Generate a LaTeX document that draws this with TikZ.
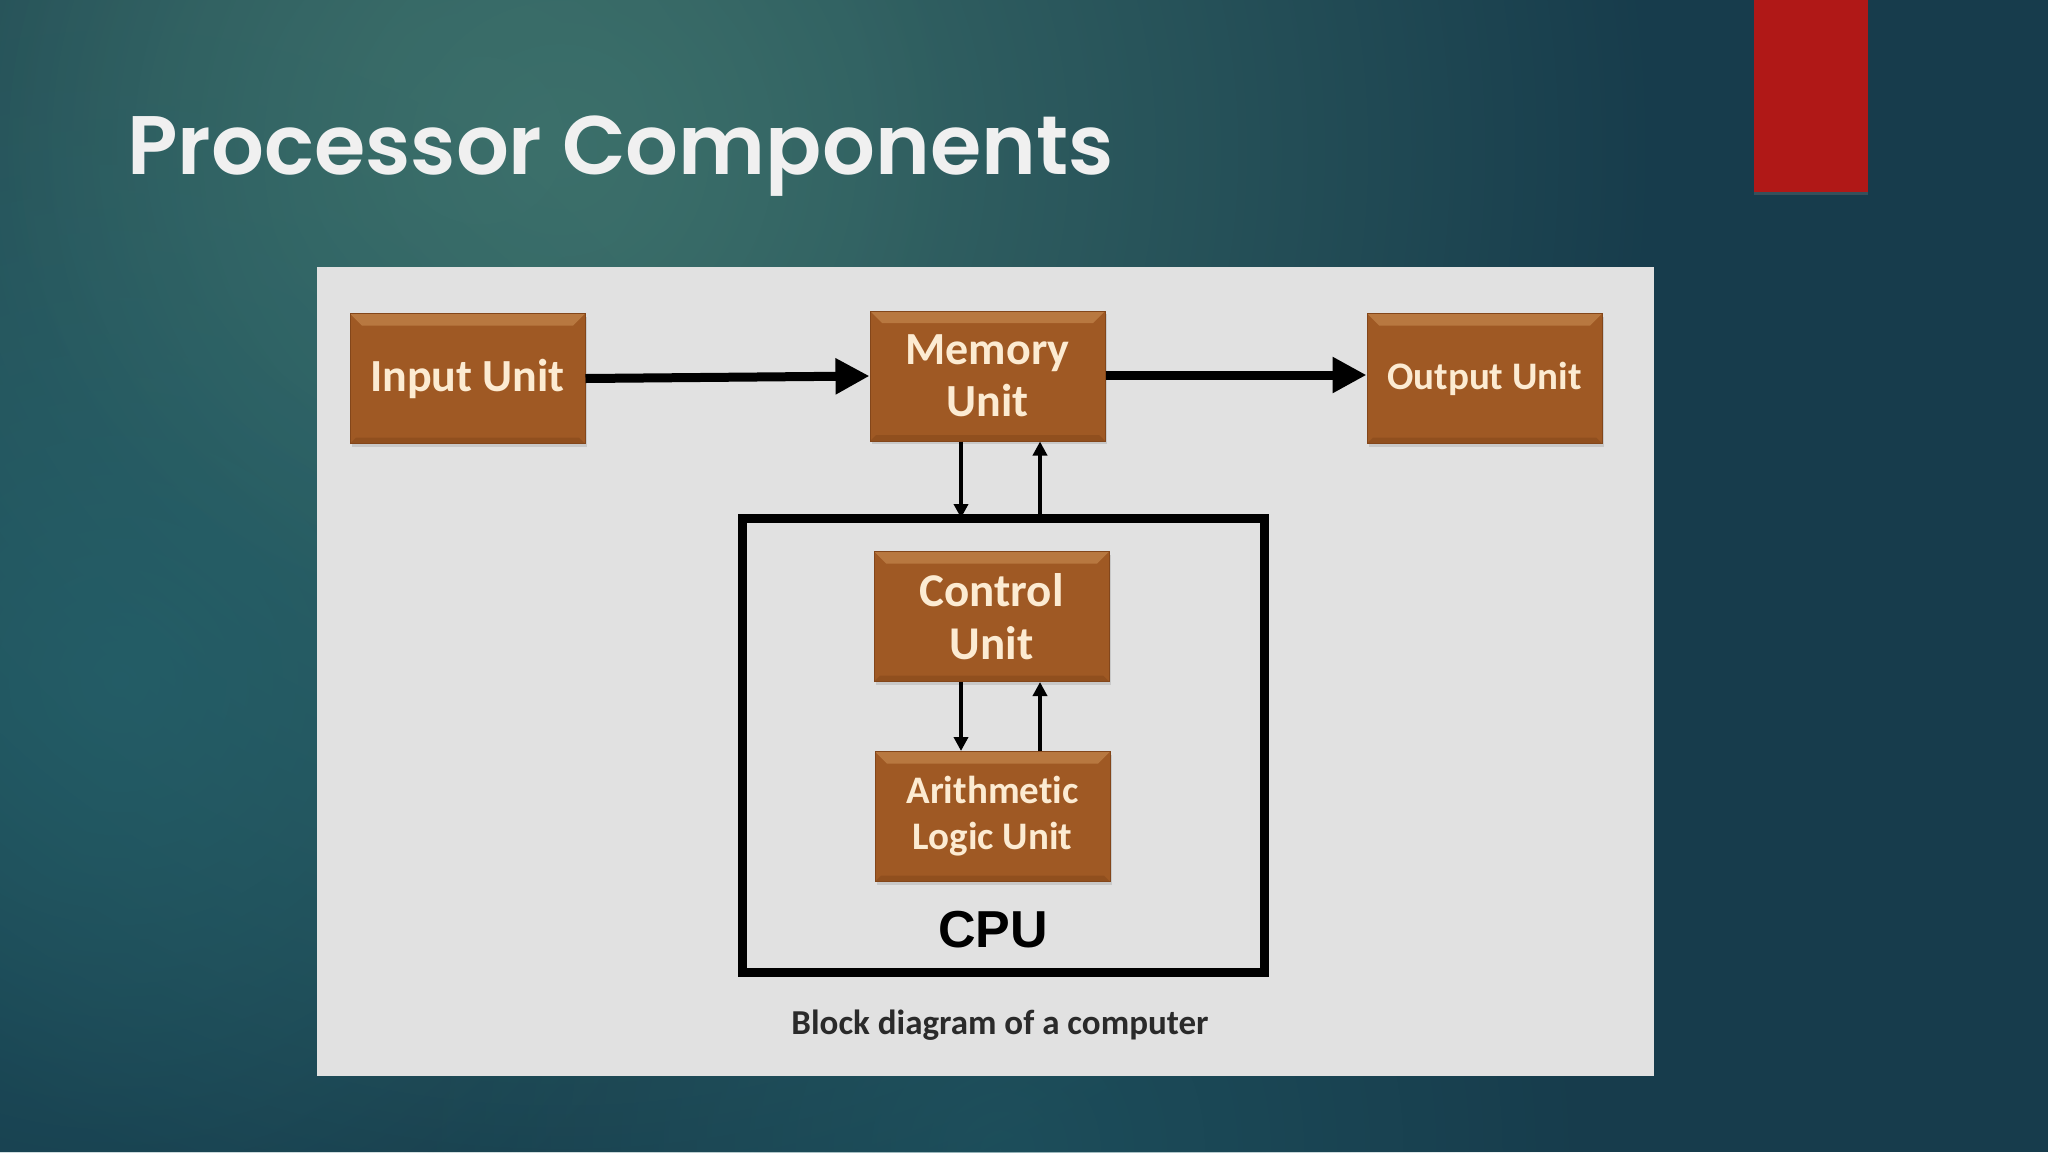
\documentclass[tikz,border=0pt]{standalone}
\usepackage{fontspec}
\setmainfont{Carlito}[Ligatures=NoCommon]
\newfontfamily\titlefont{Poppins SemiBold}
\newfontfamily\cpufont{Liberation Sans}
\usetikzlibrary{arrows.meta,shadows,fadings}
\definecolor{bgdark}{HTML}{173C4C}
\definecolor{bgmid}{HTML}{23606A}
\definecolor{bglight}{HTML}{3C706B}
\definecolor{panel}{HTML}{E1E1E1}
\definecolor{brown}{HTML}{9F5924}
\definecolor{brownlight}{HTML}{B87840}
\definecolor{browndark}{HTML}{83461A}
\definecolor{cream}{HTML}{FCEBD2}
\definecolor{redbar}{HTML}{B01817}
\definecolor{captiongray}{HTML}{2A2A2A}
\tikzfading[name=softblob, inner color=transparent!0, outer color=transparent!100]
\tikzset{
  unitbox/.style={rectangle, minimum width=117.5pt, minimum height=65pt,
    inner sep=2pt, align=center, text=cream, font=\bfseries,
    fill=brown, draw=browndark, line width=0.5pt,
    drop shadow={opacity=0.25, shadow xshift=1pt, shadow yshift=-1.5pt},
    path picture={
      \fill[brownlight] (path picture bounding box.north west) -- (path picture bounding box.north east)
        -- ([xshift=-6pt,yshift=-6pt]path picture bounding box.north east)
        -- ([xshift=6pt,yshift=-6pt]path picture bounding box.north west) -- cycle;
      \fill[browndark, opacity=0.5] (path picture bounding box.south west) -- (path picture bounding box.south east)
        -- ([xshift=-3pt,yshift=3pt]path picture bounding box.south east)
        -- ([xshift=3pt,yshift=3pt]path picture bounding box.south west) -- cycle;
    }},
  bigarrow/.style={line width=4.5pt, -{Triangle[length=17pt,width=17pt]}},
  thinarrow/.style={line width=1.8pt, -{Triangle[length=7pt,width=7pt]}},
}
\begin{document}
\begin{tikzpicture}[x=0.5pt,y=-0.5pt]
\useasboundingbox (0,0) rectangle (2048,1152);
% background
\fill[bgdark] (0,0) rectangle (2048,1152);
\begin{scope}
\clip (0,0) rectangle (2048,1152);
\fill[bglight, path fading=softblob] (560,150) circle (1100);
\fill[bgmid, path fading=softblob, opacity=0.8] (120,680) circle (650);
\fill[bglight, path fading=softblob, opacity=0.6] (480,140) circle (500);
\fill[bgmid, path fading=softblob, opacity=0.5] (1000,1150) circle (600);
\end{scope}
% red bar
\fill[redbar, drop shadow={opacity=0.3, shadow xshift=0pt, shadow yshift=-1.5pt}] (1754,0) rectangle (1868,192);
% title
\node[anchor=base west, inner sep=0, text=white!94!black, font=\titlefont\fontsize{41.5}{46}\selectfont] (title) at (127,174) {Processor Components};
% panel
\fill[panel] (317,267) rectangle (1654,1076);
% CPU box
\draw[line width=4.5pt] (742,518) rectangle (1264,972);
\coordinate (cputop1) at (961,518);
\coordinate (cputop2) at (1040,518);
% units
\node[unitbox, font=\bfseries\fontsize{23}{26}\selectfont] (input) at (467.5,378.5) {Input Unit};
\node[unitbox, font=\bfseries\fontsize{23}{26}\selectfont] (memory) at (987.5,376) {Memory\\Unit};
\node[unitbox, font=\bfseries\fontsize{19.5}{22}\selectfont] (output) at (1484.5,378.5) {Output Unit};
\node[unitbox, font=\bfseries\fontsize{23.5}{26.5}\selectfont] (control) at (991.5,616.5) {Control\\Unit};
\node[unitbox, font=\bfseries\fontsize{19.5}{23}\selectfont] (alu) at (992.5,816.5) {Arithmetic\\Logic Unit};
% labels
\node[font=\cpufont\bfseries\fontsize{26}{28}\selectfont] (cpu) at (993,930) {CPU};
\node[text=captiongray, font=\bfseries\fontsize{17.5}{19}\selectfont] (caption) at (1000,1025) {Block diagram of a computer};
% connectors
\draw[bigarrow] (input.east) -- (memory.west);
\draw[bigarrow] (memory.east |- 0,375) -- (output.west |- 0,375);
\draw[thinarrow] (memory.south -| cputop1) -- (cputop1);
\draw[thinarrow] (cputop2) -- (memory.south -| cputop2);
\draw[thinarrow] (control.south -| cputop1) -- (alu.north -| cputop1);
\draw[thinarrow] (alu.north -| cputop2) -- (control.south -| cputop2);
\end{tikzpicture}
\end{document}
